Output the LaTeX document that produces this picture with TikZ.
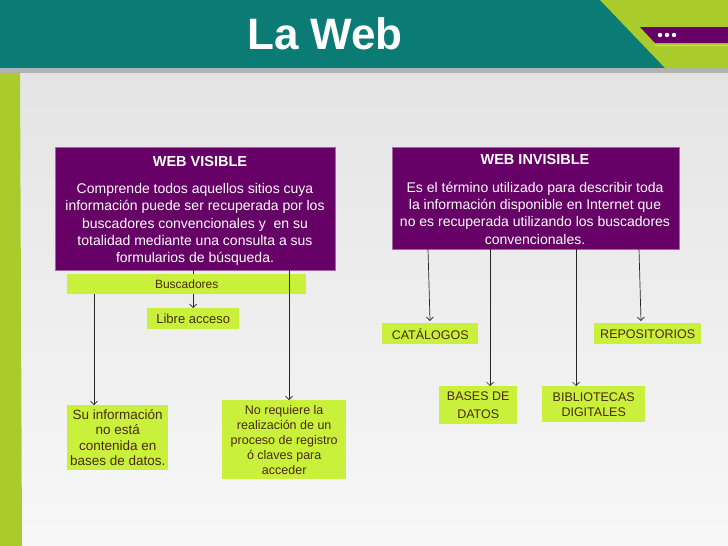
\documentclass[tikz,border=0pt]{standalone}
\usepackage{fontspec}
\setmainfont{Liberation Sans}
\usetikzlibrary{arrows.meta,shadows}
\definecolor{teal1}{HTML}{0B7B76}
\definecolor{lime}{HTML}{C9F03A}
\definecolor{side}{HTML}{A9CB2C}
\definecolor{purp}{HTML}{660066}
\definecolor{brn}{HTML}{4A2A10}
\definecolor{bg}{HTML}{E4E4E4}
\tikzset{
  pbox/.style={draw=purp!60!white,fill=purp,text=white,anchor=north west,inner sep=0pt,align=center},
  gbox/.style={fill=lime,text=brn,anchor=north west,inner sep=0pt,align=center,font=\fontsize{12.5}{15}\selectfont},
  arr/.style={draw=black!85,line width=0.7pt,-{Straight Barb[length=3.5pt,width=7pt]}}
}
\begin{document}
\begin{tikzpicture}[x=1pt,y=-1pt]
\useasboundingbox (0,0) rectangle (728,546);
\shade[top color=bg,bottom color=white!97!black] (0,68) rectangle (728,546);
% left strip
\fill[side] (0,68) -- (20,68) -- (22,546) -- (0,546) -- cycle;
% header
\fill[black!30] (0,68) rectangle (728,73);
\fill[teal1] (0,0) rectangle (728,68);
\fill[side] (600,0) -- (728,0) -- (728,68) -- (665,68) -- cycle;
\fill[purp] (640,27) -- (728,27) -- (728,43) -- (655,43) -- cycle;
\draw[white!80!black,line width=1pt] (655,45) -- (728,45);
\foreach \x in {660,667,674} \fill[white] (\x,35) circle (2.2);
\node[text=white,font=\fontsize{44}{44}\selectfont\bfseries] (title) at (325,34) {La Web};
% visible
\node[pbox,minimum width=280,minimum height=123] (vis) at (55,147) {};
\node[text=white,font=\fontsize{14.5}{16}\selectfont\bfseries] (vist) at (200,162) {WEB VISIBLE};
\node[text=white,align=center,font=\fontsize{14}{17.3}\selectfont] (visb) at (195,224.5) {Comprende todos aquellos sitios cuya\\información puede ser recuperada por los\\buscadores convencionales y \ en su\\totalidad mediante una consulta a sus\\formularios de búsqueda.};
\node[gbox,minimum width=239,minimum height=20,font=\fontsize{12}{14}\selectfont] (bus) at (67,274) {Buscadores};
\node[gbox,minimum width=92,minimum height=21,font=\fontsize{13}{14}\selectfont] (lib) at (147,308) {Libre acceso};
\node[gbox,minimum width=101,minimum height=65,font=\fontsize{13.5}{15.3}\selectfont] (sui) at (67,405) {Su información\\no está\\contenida en\\bases de datos.};
\node[gbox,minimum width=124,minimum height=79,font=\fontsize{12.5}{15}\selectfont] (noreq) at (222,400) {No requiere la\\realización de un\\proceso de registro\\ó claves para\\acceder};
\draw[black!85,line width=0.7pt] (vis.south -| lib.north) -- (bus.north -| lib.north);
\draw[arr] (bus.south -| lib.north) -- (lib.north);
\draw[arr] (bus.south -| 94,0) -- (sui.north -| 94,0);
\draw[arr] (vis.south -| 289,0) -- (noreq.north -| 289,0);
% invisible
\node[pbox,minimum width=287,minimum height=102] (inv) at (392,147) {};
\node[text=white,font=\fontsize{14.5}{16}\selectfont\bfseries] (invt) at (535,160) {WEB INVISIBLE};
\node[text=white,align=center,font=\fontsize{14}{17.3}\selectfont] (invb) at (535,213) {Es el término utilizado para describir toda\\la información disponible en Internet que\\no es recuperada utilizando los buscadores\\convencionales.};
\node[gbox,minimum width=96,minimum height=21] (cat) at (382,323) {CATÁLOGOS};
\node[gbox,minimum width=107,minimum height=21] (rep) at (594,323) {REPOSITORIOS};
\node[gbox,minimum width=78,minimum height=38,font=\fontsize{12.5}{18}\selectfont] (bas) at (439,386) {BASES DE\\DATOS};
\node[gbox,minimum width=103,minimum height=36] (bib) at (542,386) {BIBLIOTECAS\\DIGITALES};
\coordinate (c1) at (428,249); \coordinate (c2) at (430,321);
\coordinate (c3) at (639,249); \coordinate (c4) at (641,321);
\draw[arr] (c1) -- (c2);
\draw[arr] (c3) -- (c4);
\draw[arr] (inv.south -| 490,0) -- (bas.north -| 490,0);
\draw[arr] (inv.south -| 576,0) -- (bib.north -| 576,0);
\end{tikzpicture}
\end{document}
